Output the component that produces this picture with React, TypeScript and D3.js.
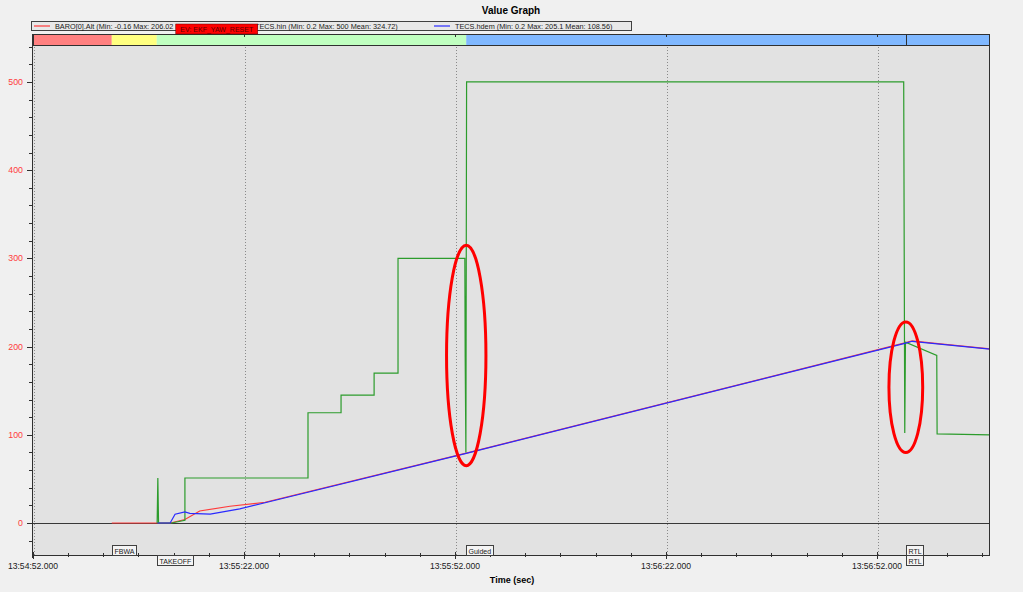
import React from 'react';
import * as d3 from 'd3';

const W = 1023;
const H = 592;

// time is seconds after 13:54:52.000
const timeTicks = [0, 30, 60, 90, 120];
const timeTickLabels = ['13:54:52.000', '13:55:22.000', '13:55:52.000', '13:56:22.000', '13:56:52.000'];
const valueTicks = [0, 100, 200, 300, 400, 500];

const legendLabels = [
  'BARO[0].Alt  (Min: -0.16 Max: 206.02 Mean: 100.66)',
  'TECS.hin  (Min: 0.2 Max: 500 Mean: 324.72)',
  'TECS.hdem  (Min: 0.2 Max: 205.1 Mean: 108.56)',
];

const baroAlt: [number, number][] = [
  [11.2, 0], [19.5, 0], [21.6, 4], [23.7, 13.6], [28.0, 19], [33.0, 23.5],
  [61.6, 79.2], [124.1, 204.5], [125.0, 206.5], [129.0, 203], [136.07, 197.5],
];

const tecsHin: [number, number][] = [
  [17.65, 0], [17.75, 51], [17.85, 0], [19.7, 0], [21.6, 3], [21.6, 51],
  [39.1, 51], [39.1, 125], [43.8, 125], [43.8, 145], [48.5, 145], [48.5, 170],
  [51.9, 170], [51.9, 300], [61.4, 300], [61.45, 188], [61.55, 80], [61.65, 500],
  [123.8, 500], [123.95, 102], [124.05, 205], [128.5, 190], [128.55, 101], [136.07, 100],
];

const tecsHdem: [number, number][] = [
  [17.7, 0], [19.5, 0], [20.2, 10], [21.6, 12.5], [22.3, 11], [25.2, 10],
  [29.4, 16], [33.0, 23], [61.6, 79], [124.1, 204], [125.0, 206], [136.07, 197],
];

const bandStarts = [0, 11.2, 17.6, 61.6];
const bandColors = ['#ff8080', '#ffff80', '#c0ffc0', '#80b8ff'];
const bandDividers = [124.1];

const modeNames = ['FBWA', 'TAKEOFF', 'Guided', 'RTL', 'RTL'];
const modeTimes = [11.2, 17.6, 61.6, 124.1, 124.1];
const modeRows = [0, 1, 0, 0, 1];

const eventName = 'EV: EKF_YAW_RESET';
const eventTime = 20.3;

// highlight ellipses: [time, value, half-width (s), half-height (value)]
const highlights: [number, number, number, number][] = [
  [61.6, 190, 2.8, 125],
  [124.1, 154, 2.4, 74],
];

const seriesColors = ['#ff3a3a', '#2c9c2c', '#2a2aff'];
const font = '"Liberation Sans", Arial, sans-serif';

let ctx: CanvasRenderingContext2D | null = null;
function textWidth(s: string, size: number) {
  if (!ctx) ctx = document.createElement('canvas').getContext('2d');
  if (!ctx) return s.length * size * 0.6;
  ctx.font = `${size}px ${font}`;
  return ctx.measureText(s).width;
}

export default function App() {
  const left = 33;
  const right = 990;
  const top = 45;
  const bottom = 556;
  const bandTop = 34;

  const x = d3.scaleLinear().domain([0, 136.07]).range([left, right]);
  const y = d3.scaleLinear().domain([-37.4, 543]).range([bottom, 44]);

  const line = d3.line<[number, number]>().x(d => x(d[0])).y(d => y(d[1]));
  const minorX = d3.range(0, 136, 5);
  const minorY = d3.range(-20, 541, 20);
  const series = [baroAlt, tecsHin, tecsHdem];

  return (
    <svg width={W} height={H} style={{ position: 'absolute', left: 0, top: 0, background: '#f0f0f0' }} fontFamily={font}>
      <defs>
        <clipPath id="plot">
          <rect x={left} y={top} width={right - left} height={bottom - top} />
        </clipPath>
      </defs>
      <rect x={0} y={0} width={W} height={H} fill="#f0f0f0" />
      <text x={511} y={14} textAnchor="middle" fontSize={10} fontWeight="bold" fill="#000">Value Graph</text>

      {/* plot area */}
      <rect x={left} y={top} width={right - left} height={bottom - top} fill="#e2e2e2" />

      {/* mode band */}
      {bandStarts.map((t, i) => {
        const x0 = x(t);
        const x1 = i + 1 < bandStarts.length ? x(bandStarts[i + 1]) : right;
        return <rect key={i} x={x0} y={bandTop} width={x1 - x0} height={top - bandTop} fill={bandColors[i]} />;
      })}
      {bandDividers.map((t, i) => (
        <line key={i} x1={Math.round(x(t)) + 0.5} x2={Math.round(x(t)) + 0.5} y1={bandTop} y2={top} stroke="#303030" />
      ))}
      <rect x={left + 0.5} y={bandTop + 0.5} width={right - left - 1} height={top - bandTop} fill="none" stroke="#303030" />
      {timeTicks.map(t => (
        <line key={t} x1={Math.round(x(t)) + 0.5} x2={Math.round(x(t)) + 0.5} y1={bandTop} y2={bandTop + 3} stroke="#303030" />
      ))}

      {/* grid */}
      {timeTicks.map(t => (
        <line key={t} x1={Math.round(x(t)) + 1.5} x2={Math.round(x(t)) + 1.5} y1={top + 2} y2={bottom} stroke="#8a8a8a" strokeDasharray="1,2" />
      ))}
      <line x1={left} x2={right} y1={Math.round(y(0)) + 0.5} y2={Math.round(y(0)) + 0.5} stroke="#383838" />

      {/* series */}
      <g clipPath="url(#plot)">
        {series.map((s, i) => (
          <path key={i} d={line(s) ?? ''} fill="none" stroke={seriesColors[i]} strokeWidth={1.2} />
        ))}
      </g>

      {/* highlight ellipses */}
      {highlights.map(([t, v, rt, rv], i) => (
        <ellipse key={i} cx={x(t)} cy={y(v)} rx={x(rt) - x(0)} ry={y(0) - y(rv)} fill="none" stroke="#ff0000" strokeWidth={3} />
      ))}

      {/* frame and axes */}
      <line x1={left - 0.5} x2={left - 0.5} y1={bandTop} y2={bottom + 2} stroke="#303030" />
      <line x1={right - 0.5} x2={right - 0.5} y1={bandTop} y2={bottom} stroke="#303030" />
      <line x1={left - 1} x2={right} y1={bottom - 0.5} y2={bottom - 0.5} stroke="#303030" />

      {minorY.map(v => (
        <line key={v} x1={left - 4} x2={left} y1={Math.round(y(v)) + 0.5} y2={Math.round(y(v)) + 0.5} stroke="#303030" />
      ))}
      {valueTicks.map((v, i) => (
        <g key={v}>
          <line x1={left - 6} x2={left} y1={Math.round(y(v)) + 0.5} y2={Math.round(y(v)) + 0.5} stroke="#303030" />
          <text x={23} y={y(v) + 3} textAnchor="end" fontSize={8.8} fill="#ff3c3c">{String(valueTicks[i])}</text>
        </g>
      ))}

      {minorX.map(t => (
        <line key={t} x1={Math.round(x(t)) + 0.5} x2={Math.round(x(t)) + 0.5} y1={bottom - 3} y2={bottom + 1} stroke="#303030" />
      ))}
      {timeTicks.map((t, i) => (
        <g key={t}>
          <line x1={Math.round(x(t)) + 0.5} x2={Math.round(x(t)) + 0.5} y1={bottom - 4} y2={bottom + 3} stroke="#303030" />
          <text x={x(t)} y={569} textAnchor="middle" fontSize={8.6} fill="#202020">{timeTickLabels[i]}</text>
        </g>
      ))}
      <text x={512} y={583} textAnchor="middle" fontSize={9} fontWeight="bold" fill="#000">Time (sec)</text>

      {/* mode labels */}
      {modeNames.map((name, i) => {
        const bx = Math.round(x(modeTimes[i])) + 0.5;
        const by = modeRows[i] === 0 ? bottom - 10.5 : bottom - 0.5;
        const bw = Math.round(textWidth(name, 7)) + 4;
        return (
          <g key={i}>
            <rect x={bx} y={by} width={bw} height={10} fill="#f4f4f4" stroke="#404040" />
            <text x={bx + 2} y={by + 8} fontSize={7} fill="#202020">{name}</text>
          </g>
        );
      })}

      {/* legend */}
      <rect x={31.5} y={21.5} width={600} height={9} fill="#e8e8e8" stroke="#404040" />
      {legendLabels.map((label, i) => {
        const lx = 34 + i * 200;
        return (
          <g key={i}>
            <line x1={lx} x2={lx + 16} y1={26} y2={26} stroke={seriesColors[i]} strokeWidth={1.2} />
            <text x={lx + 21} y={29} fontSize={7.3} fill="#202020">{label}</text>
          </g>
        );
      })}

      {/* event marker */}
      <rect x={x(eventTime)} y={24} width={82} height={10} fill="#ff0000" stroke="#600000" strokeWidth={0.5} />
      <text x={x(eventTime) + 41} y={32} textAnchor="middle" fontSize={7} fill="#5a0000">{eventName}</text>
    </svg>
  );
}
